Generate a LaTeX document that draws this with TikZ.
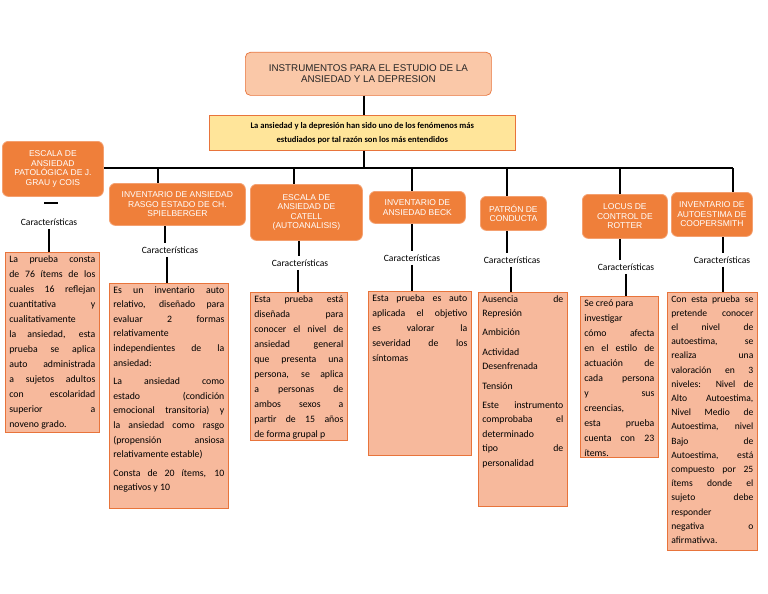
\documentclass[tikz,border=0pt]{standalone}
\usepackage{fontspec}
\setmainfont{Carlito}
\newfontfamily\hsans{Liberation Sans}
\newcommand\tbx[3]{\parbox[t][#2pt][t]{#1pt}{\vspace{0pt}#3}}
\begin{document}
\definecolor{hdr}{HTML}{EF7F3A}
\definecolor{hdrb}{HTML}{F4A070}
\definecolor{txf}{HTML}{F7B99C}
\definecolor{txb}{HTML}{E8743B}
\definecolor{ttl}{HTML}{FAC8A8}
\definecolor{yel}{HTML}{FFE59A}
\begin{tikzpicture}[x=1pt,y=-1pt,
 hdr/.style={draw=hdrb,line width=0.8pt,fill=hdr,rounded corners=6pt,text=white,font=\hsans\fontsize{8.5}{9.6}\selectfont,align=center,inner sep=2pt,anchor=north west},
 txt/.style={draw=txb,line width=0.7pt,fill=txf,anchor=north west,inner xsep=4pt,inner ysep=3pt,font=\fontsize{9.8}{15}\selectfont},
 lbl/.style={font=\fontsize{9.6}{10}\selectfont},
 ln/.style={line width=1.3pt}]
\useasboundingbox (0,0) rectangle (768,594);
\fill[white] (0,0) rectangle (768,594);
\node[draw=txb,line width=0.7pt,fill=ttl,rounded corners=5pt,minimum width=246pt,minimum height=43pt,anchor=north west,align=center,font=\hsans\fontsize{9.8}{11.5}\selectfont,text=black!85] (t) at (245,52) {INSTRUMENTOS PARA EL ESTUDIO DE LA\\ANSIEDAD Y LA DEPRESION};
\node[draw=txb,line width=0.6pt,fill=yel,minimum width=306pt,minimum height=35pt,anchor=north west,align=center,font=\bfseries\fontsize{8.6}{14}\selectfont] (y) at (209,115) {La ansiedad y la depresión han sido uno de los fenómenos más\\estudiados por tal razón son los más entendidos};
\coordinate (hl) at (103,168); \coordinate (hr) at (733,168);
\draw[ln] (364,0 |- t.south) -- (364,0 |- y.north);
\draw[ln] (364,0 |- y.south) -- (364,168);
\draw[ln] (hl) -- (hr);
% headers
\node[hdr,minimum width=101pt,minimum height=55pt] (h1) at (2,141) {ESCALA DE\\ANSIEDAD\\PATOLÓGICA DE J.\\GRAU y COIS};
\node[hdr,minimum width=136pt,minimum height=42pt] (h2) at (109,183) {INVENTARIO DE ANSIEDAD\\RASGO ESTADO DE CH.\\SPIELBERGER};
\node[hdr,minimum width=112pt,minimum height=56pt] (h3) at (250,184) {ESCALA DE\\ANSIEDAD DE\\CATELL\\(AUTOANALISIS)};
\node[hdr,minimum width=96pt,minimum height=32pt] (h4) at (369,191) {INVENTARIO DE\\ANSIEDAD BECK};
\node[hdr,minimum width=66pt,minimum height=34pt] (h5) at (480,196) {PATRÓN DE\\CONDUCTA};
\node[hdr,minimum width=85pt,minimum height=44pt] (h6) at (582,194) {LOCUS DE\\CONTROL DE\\ROTTER};
\node[hdr,minimum width=81pt,minimum height=44pt] (h7) at (671,192) {INVENTARIO DE\\AUTOESTIMA DE\\COOPERSMITH};
\foreach \h/\x in {h2/158,h3/294,h4/412,h5/507,h6/620,h7/733}{\draw[ln] (\x,168) -- (\x,0 |- \h.north);}
% labels
\node[lbl] (c1) at (49,222) {Características};
\node[lbl] (c2) at (170,250) {Características};
\node[lbl] (c3) at (300,263) {Características};
\node[lbl] (c4) at (412,258) {Características};
\node[lbl] (c5) at (512,260) {Características};
\node[lbl] (c6) at (626,267) {Características};
\node[lbl] (c7) at (722,260) {Características};
\coordinate (d1) at (44,203); \coordinate (d2) at (58,203);
\draw[ln] (d1) -- (d2);
% text boxes
\node[txt] (b1) at (5,252) {\tbx{86}{174}{La prueba consta\linebreak de 76 ítems de los\linebreak cuales 16 reflejan\linebreak cuantitativa y\linebreak cualitativamente\\ la ansiedad, esta\linebreak prueba se aplica\linebreak auto administrada\linebreak a sujetos adultos\linebreak con escolaridad\linebreak superior a\linebreak noveno grado.}};
\node[txt,font=\fontsize{9.8}{14.6}\selectfont] (b2) at (109,283) {\tbx{111}{219}{Es un inventario auto\linebreak relativo, diseñado para\linebreak evaluar 2 formas\linebreak relativamente\\ independientes de la\linebreak ansiedad:\par\vspace{4pt} La ansiedad como\linebreak estado (condición\linebreak emocional transitoria) y\linebreak la ansiedad como rasgo\linebreak (propensión ansiosa\linebreak relativamente estable)\par\vspace{4pt} Consta de 20 ítems, 10\linebreak negativos y 10}};
\node[txt] (b3) at (250,292) {\tbx{89}{142}{Esta prueba está\linebreak diseñada para\linebreak conocer el nivel de\linebreak ansiedad general\linebreak que presenta una\linebreak persona, se aplica\linebreak a personas de\linebreak ambos sexos a\linebreak partir de 15 años\linebreak de forma grupal p}};
\node[txt] (b4) at (368,291) {\tbx{95}{158}{Esta prueba es auto\linebreak aplicada el objetivo\linebreak es valorar la\linebreak severidad de los\linebreak síntomas}};
\node[txt,font=\fontsize{9.8}{14.4}\selectfont] (b5) at (478,292) {\tbx{81}{208}{Ausencia de\linebreak Represión\par\vspace{5pt} Ambición\par\vspace{5pt} Actividad\\ Desenfrenada\par\vspace{5pt} Tensión\par\vspace{5pt} Este instrumento\linebreak comprobaba el\linebreak determinado\\ tipo de\linebreak personalidad}};
\node[txt] (b6) at (580,296) {\tbx{70}{155}{Se creó para\\ investigar\\ cómo afecta\linebreak en el estilo de\linebreak actuación de\linebreak cada persona\linebreak y sus\linebreak creencias,\\ esta prueba\linebreak cuenta con 23\linebreak ítems.}};
\node[txt,font=\fontsize{9.6}{14.2}\selectfont] (b7) at (667,292) {\tbx{82}{252}{Con esta prueba se\linebreak pretende conocer\linebreak el nivel de\linebreak autoestima, se\linebreak realiza una\linebreak valoración en 3\linebreak niveles: Nivel de\linebreak Alto Autoestima,\linebreak Nivel Medio de\linebreak Autoestima, nivel\linebreak Bajo de\linebreak Autoestima, está\linebreak compuesto por 25\linebreak ítems donde el\linebreak sujeto debe\linebreak responder\\ negativa o\linebreak afirmativva.}};
% connectors
\draw[ln] (c1.south) -- (b1.north -| c1.south);
\draw[ln] (165,0 |- h2.south) -- (165,0 |- c2.north);
\draw[ln] (167,0 |- c2.south) -- (167,0 |- b2.north);
\draw[ln] (299,0 |- h3.south) -- (299,0 |- c3.north);
\draw[ln] (298,0 |- c3.south) -- (298,0 |- b3.north);
\draw[ln] (412,0 |- h4.south) -- (412,0 |- c4.north);
\draw[ln] (412,0 |- c4.south) -- (412,0 |- b4.north);
\draw[ln] (507,0 |- h5.south) -- (507,0 |- c5.north);
\draw[ln] (511,0 |- c5.south) -- (511,0 |- b5.north);
\draw[ln] (620,0 |- h6.south) -- (620,0 |- c6.north);
\draw[ln] (626,0 |- c6.south) -- (626,0 |- b6.north);
\draw[ln] (723,0 |- h7.south) -- (723,0 |- c7.north);
\draw[ln] (723,0 |- c7.south) -- (723,0 |- b7.north);
\end{tikzpicture}
\end{document}
